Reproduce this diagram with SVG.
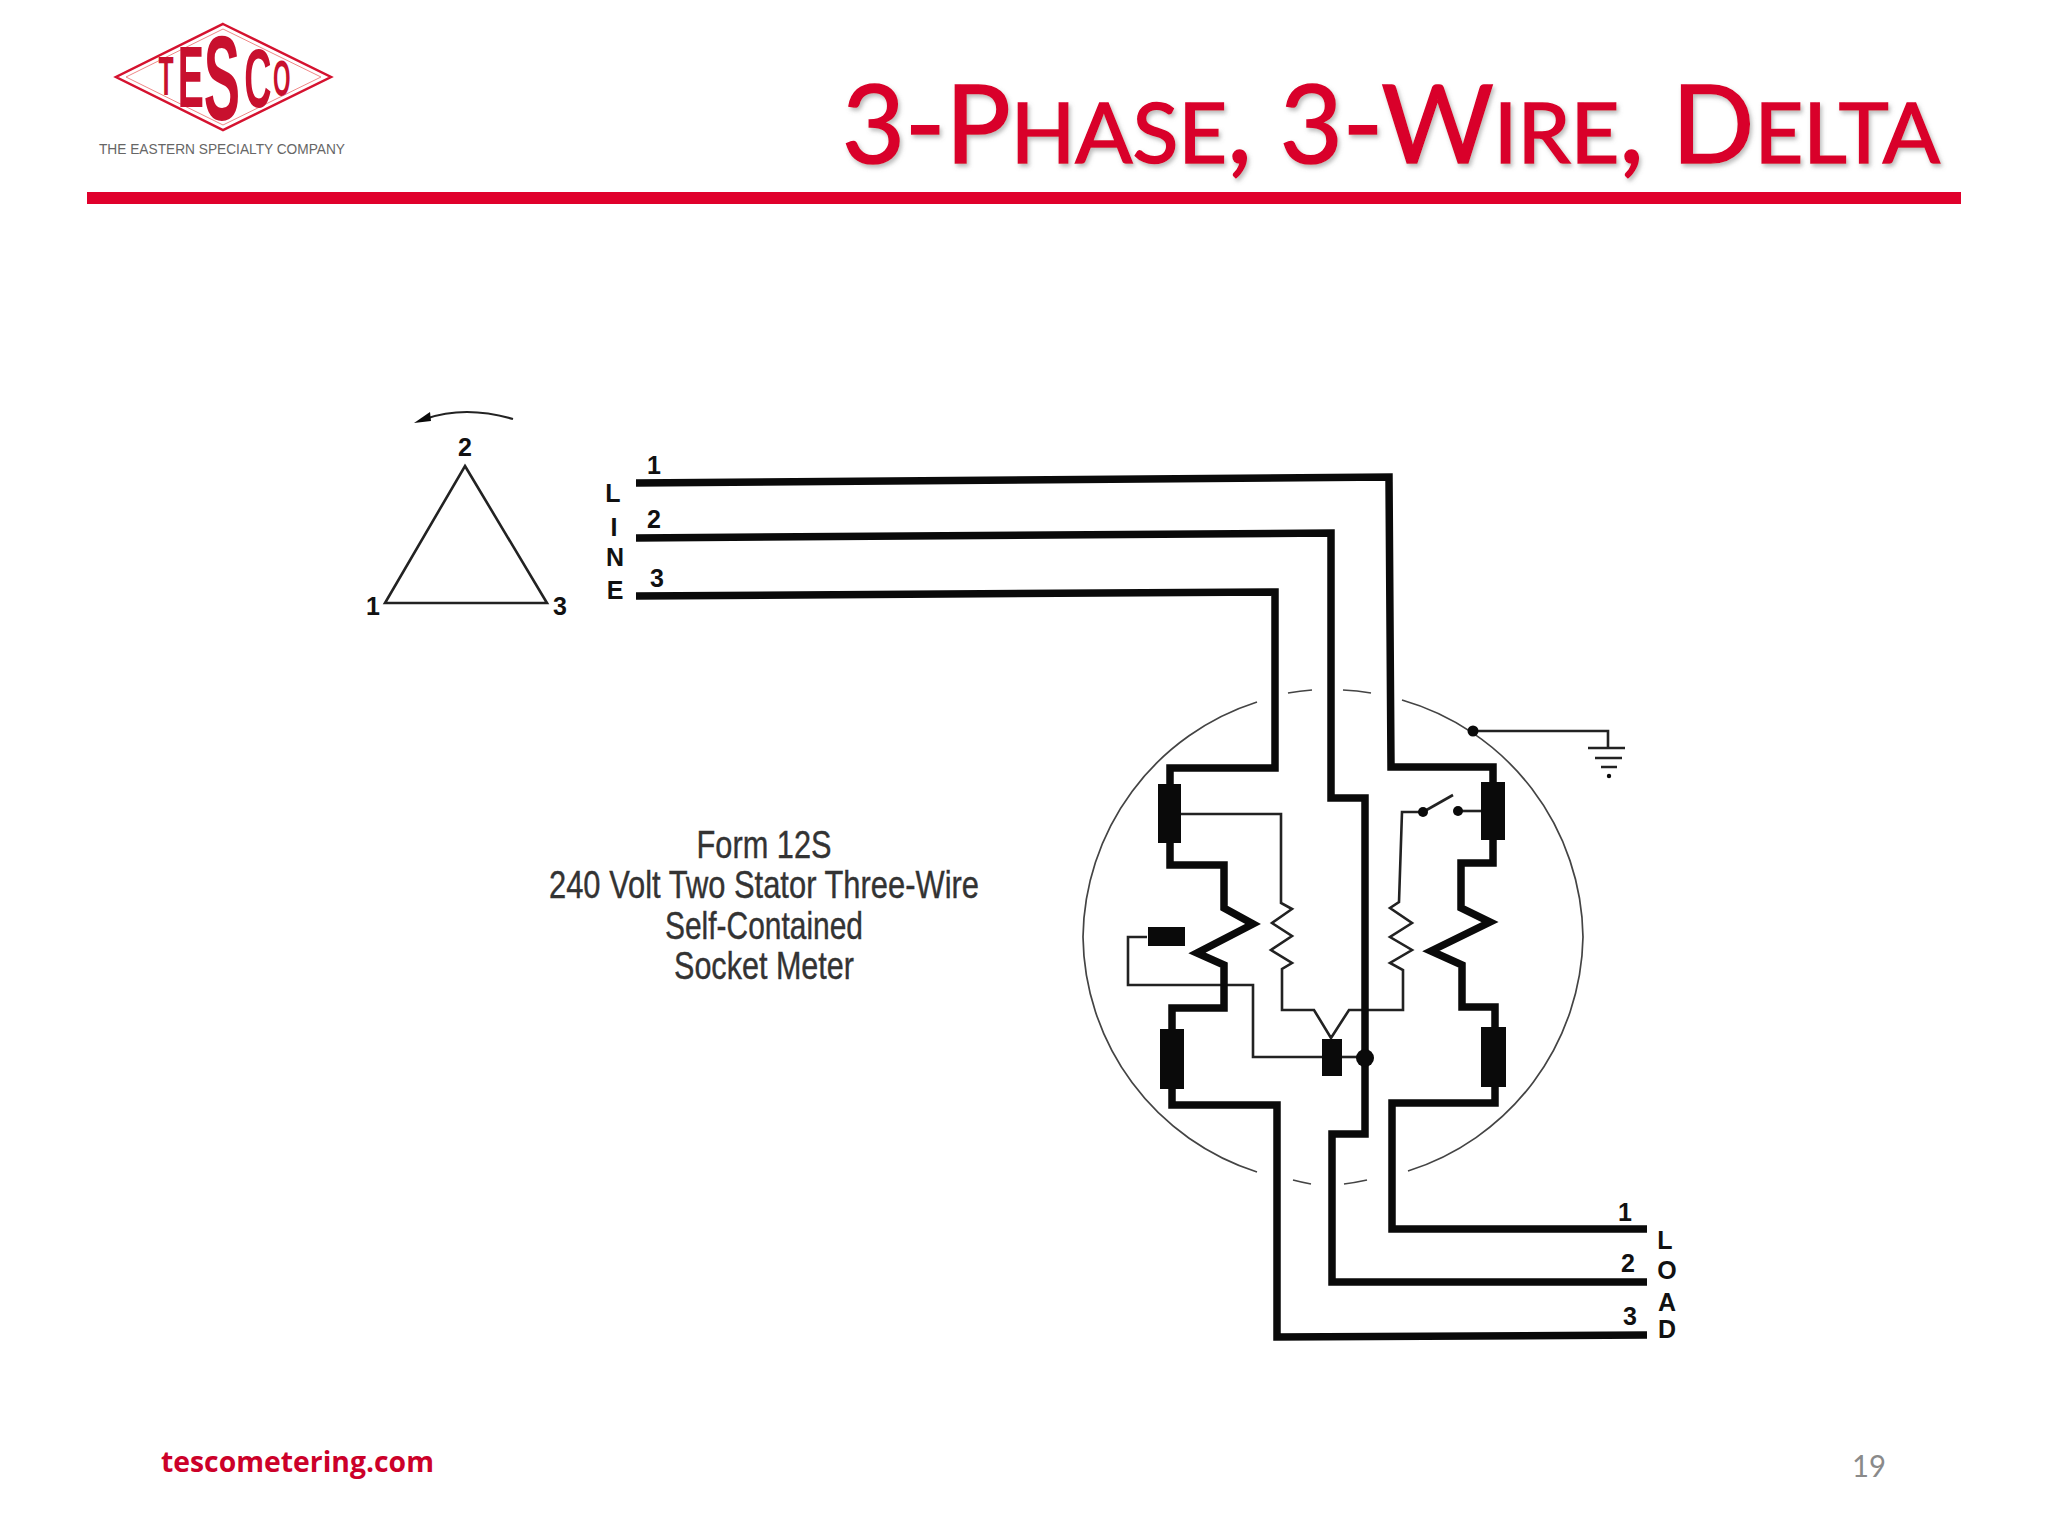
<svg xmlns="http://www.w3.org/2000/svg" width="2048" height="1536" viewBox="0 0 2048 1536">
<style>
.h{fill:none;stroke:#0a0a0a;stroke-width:7.5;stroke-linejoin:miter}
.t{fill:none;stroke:#222;stroke-width:2.6;stroke-linejoin:miter}
.c{fill:none;stroke:#444;stroke-width:1.7}
.b{fill:#0a0a0a}
.l{font-family:"Liberation Sans",sans-serif;font-weight:700;font-size:25px;fill:#111;text-anchor:middle}
.f{font-family:"Liberation Sans",sans-serif;font-size:39px;fill:#333;stroke:#333;stroke-width:.4;text-anchor:middle}
</style>
<defs>
<filter id="sh" x="-5%" y="-20%" width="110%" height="140%"><feDropShadow dx="2" dy="3" stdDeviation="2" flood-color="#777" flood-opacity="0.5"/></filter>
</defs>
<rect width="2048" height="1536" fill="#fff"/>
<g id="logo">
<path d="M223 24L331 77L223 130L116 77Z" fill="none" stroke="#d5122f" stroke-width="2.5"/>
<path d="M223 29L321 77L223 125L126 77Z" fill="none" stroke="#e88" stroke-width="1"/>
<g transform="scale(.45,1)">
<text font-family="Liberation Sans,sans-serif" font-weight="700" fill="#c8102e" text-anchor="middle"><tspan x="369" y="95" font-size="55">T</tspan><tspan x="424" y="107" font-size="87">E</tspan><tspan x="493" y="120" font-size="121">S</tspan><tspan x="573" y="107" font-size="84">C</tspan><tspan x="626" y="96" font-size="50">O</tspan></text>
</g>
<text x="222" y="154" font-family="Liberation Sans,sans-serif" font-size="15" fill="#666" text-anchor="middle" textLength="246" lengthAdjust="spacingAndGlyphs">THE EASTERN SPECIALTY COMPANY</text>
</g>
<g id="title">
<text x="842" y="163" font-family="Lato,sans-serif" font-size="108" fill="#d9002b" stroke="#d9002b" stroke-width="1.6" filter="url(#sh)" textLength="1098" lengthAdjust="spacingAndGlyphs">3-P<tspan font-size="84">HASE</tspan>, 3-W<tspan font-size="84">IRE</tspan>, D<tspan font-size="84">ELTA</tspan></text>
<rect x="87" y="192" width="1874" height="12" fill="#e0002c"/>
</g>
<g id="phasor">
<path d="M465 466L547 603H385Z" fill="none" stroke="#222" stroke-width="2.6" stroke-linejoin="miter"/>
<path d="M513 419Q465 405 425 419" fill="none" stroke="#222" stroke-width="2"/>
<path d="M414 423L430 412L431 421Z" class="b"/>
<text class="l" x="465" y="456">2</text>
<text class="l" x="373" y="615">1</text>
<text class="l" x="560" y="615">3</text>
</g>
<g id="line-label">
<text class="l" x="613" y="502">L</text>
<text class="l" x="614" y="536">I</text>
<text class="l" x="615" y="566">N</text>
<text class="l" x="615" y="599">E</text>
<text class="l" x="654" y="474">1</text>
<text class="l" x="654" y="528">2</text>
<text class="l" x="657" y="587">3</text>
</g>
<g id="load-label">
<text class="l" x="1625" y="1221">1</text>
<text class="l" x="1628" y="1272">2</text>
<text class="l" x="1630" y="1325">3</text>
<text class="l" x="1665" y="1249">L</text>
<text class="l" x="1667" y="1279">O</text>
<text class="l" x="1667" y="1311">A</text>
<text class="l" x="1667" y="1338">D</text>
</g>
<g id="form-text">
<text class="f" x="764" y="858" textLength="135" lengthAdjust="spacingAndGlyphs">Form 12S</text>
<text class="f" x="764" y="898" textLength="430" lengthAdjust="spacingAndGlyphs">240 Volt Two Stator Three-Wire</text>
<text class="f" x="764" y="939" textLength="198" lengthAdjust="spacingAndGlyphs">Self-Contained</text>
<text class="f" x="764" y="979" textLength="180" lengthAdjust="spacingAndGlyphs">Socket Meter</text>
</g>
<g id="meter-case">
<path class="c" d="M1257 702A250 250 0 0 0 1083 937A250 250 0 0 0 1257 1172"/>
<path class="c" d="M1402 700A250 250 0 0 1 1583 937A250 250 0 0 1 1408 1171"/>
<path class="c" d="M1288 693A249.5 249.5 0 0 1 1312 690"/>
<path class="c" d="M1343 690A249.5 249.5 0 0 1 1371 693"/>
<path class="c" d="M1293 1180A249.5 249.5 0 0 0 1311 1184"/>
<path class="c" d="M1344 1184A249.5 249.5 0 0 0 1367 1180"/>
</g>
<g id="connectors">
<path class="t" d="M1181 814H1281V903L1292 909L1272 923L1292 936L1271 950L1292 963L1282 969V1010H1314L1331 1038L1349 1010H1403V970L1390 963L1412 950L1390 937L1412 923L1390 908L1399 902L1402 812H1423"/>
<path class="t" d="M1423 812L1453 795"/>
<path class="t" d="M1457 811H1481"/>
<path class="t" d="M1147 937H1128V985H1253V1057H1322"/>
<path class="t" d="M1342 1057H1365"/>
<path class="h" d="M636 483L1389 477L1391 767H1493V863H1461V908L1490 922L1431 951L1462 965V1007H1495V1103H1392V1229H1647"/>
<path class="h" d="M636 538L1331 533V798H1365V1134H1332V1282H1647"/>
<path class="h" d="M636 596L1275 592V768H1170V865H1224V908L1253 924L1197 953L1224 965V1008H1172V1105H1277V1337L1647 1335"/>
<path class="t" d="M1473 731H1608V748"/>
</g>
<g id="current-coil-1"><rect class="b" x="1158" y="784" width="23" height="59"/></g>
<g id="current-coil-2"><rect class="b" x="1160" y="1029" width="24" height="60"/></g>
<g id="current-coil-3"><rect class="b" x="1481" y="782" width="24" height="58"/></g>
<g id="current-coil-4"><rect class="b" x="1481" y="1027" width="25" height="60"/></g>
<g id="aux-block"><rect class="b" x="1148" y="927" width="37" height="19"/></g>
<g id="center-block"><rect class="b" x="1322" y="1039" width="20" height="37"/></g>
<g id="junctions">
<circle class="b" cx="1365" cy="1058" r="9"/>
<circle class="b" cx="1423" cy="812" r="5"/>
<circle class="b" cx="1458" cy="811" r="5"/>
<circle class="b" cx="1473" cy="731" r="5.5"/>
</g>
<g id="ground">
<path d="M1588 748H1625M1595 758H1622M1601 767H1617" fill="none" stroke="#222" stroke-width="2.6"/>
<circle class="b" cx="1609" cy="776" r="2.2"/>
</g>
<g id="footer">
<text x="161" y="1472" font-family="Open Sans,sans-serif" font-weight="700" font-size="29" fill="#cc0029" textLength="273" lengthAdjust="spacingAndGlyphs">tescometering.com</text>
<text x="1852" y="1477" font-family="Lato,sans-serif" font-size="30" fill="#8a8a8a" textLength="34" lengthAdjust="spacingAndGlyphs">19</text>
</g>
</svg>
